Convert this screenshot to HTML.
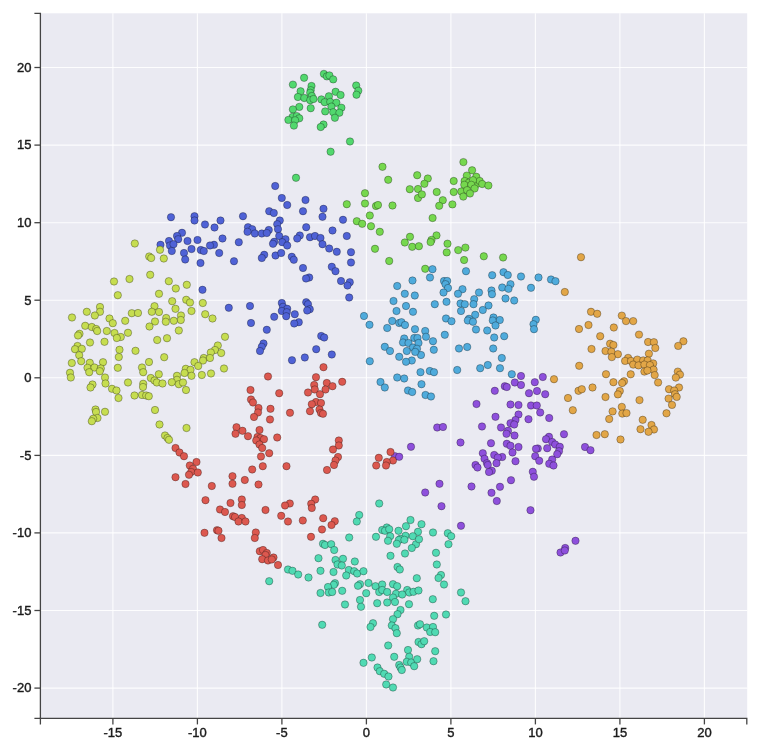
<!DOCTYPE html>
<html><head><meta charset="utf-8"><style>
html,body{margin:0;padding:0;background:#fff}
svg{display:block;filter:blur(0.35px)}
text{font-family:"Liberation Sans",sans-serif;font-size:13px;fill:#1a1a1a;stroke:#1a1a1a;stroke-width:0.4px}
</style></head><body>
<svg width="768" height="753" viewBox="0 0 768 753">
<rect x="40.4" y="13.3" width="706.8" height="705.1" fill="#eaeaf2"/>
<line x1="112.9" x2="112.9" y1="13.3" y2="718.4" stroke="#fff" stroke-opacity="0.9" stroke-width="1.1"/>
<line x1="197.4" x2="197.4" y1="13.3" y2="718.4" stroke="#fff" stroke-opacity="0.9" stroke-width="1.1"/>
<line x1="281.9" x2="281.9" y1="13.3" y2="718.4" stroke="#fff" stroke-opacity="0.9" stroke-width="1.1"/>
<line x1="366.4" x2="366.4" y1="13.3" y2="718.4" stroke="#fff" stroke-opacity="0.9" stroke-width="1.1"/>
<line x1="450.9" x2="450.9" y1="13.3" y2="718.4" stroke="#fff" stroke-opacity="0.9" stroke-width="1.1"/>
<line x1="535.4" x2="535.4" y1="13.3" y2="718.4" stroke="#fff" stroke-opacity="0.9" stroke-width="1.1"/>
<line x1="619.9" x2="619.9" y1="13.3" y2="718.4" stroke="#fff" stroke-opacity="0.9" stroke-width="1.1"/>
<line x1="704.4" x2="704.4" y1="13.3" y2="718.4" stroke="#fff" stroke-opacity="0.9" stroke-width="1.1"/>
<line y1="688.1" y2="688.1" x1="40.4" x2="747.3" stroke="#fff" stroke-opacity="0.9" stroke-width="1.1"/>
<line y1="610.5" y2="610.5" x1="40.4" x2="747.3" stroke="#fff" stroke-opacity="0.9" stroke-width="1.1"/>
<line y1="532.9" y2="532.9" x1="40.4" x2="747.3" stroke="#fff" stroke-opacity="0.9" stroke-width="1.1"/>
<line y1="455.4" y2="455.4" x1="40.4" x2="747.3" stroke="#fff" stroke-opacity="0.9" stroke-width="1.1"/>
<line y1="377.8" y2="377.8" x1="40.4" x2="747.3" stroke="#fff" stroke-opacity="0.9" stroke-width="1.1"/>
<line y1="300.2" y2="300.2" x1="40.4" x2="747.3" stroke="#fff" stroke-opacity="0.9" stroke-width="1.1"/>
<line y1="222.7" y2="222.7" x1="40.4" x2="747.3" stroke="#fff" stroke-opacity="0.9" stroke-width="1.1"/>
<line y1="145.1" y2="145.1" x1="40.4" x2="747.3" stroke="#fff" stroke-opacity="0.9" stroke-width="1.1"/>
<line y1="67.5" y2="67.5" x1="40.4" x2="747.3" stroke="#fff" stroke-opacity="0.9" stroke-width="1.1"/>
<g stroke="#000" stroke-opacity="0.4" stroke-width="0.75">
<circle cx="395.0" cy="456.2" r="3.7" fill="#8e50dc"/>
<circle cx="296.0" cy="177.8" r="3.7" fill="#52d86e"/>
<circle cx="275.2" cy="186.0" r="3.7" fill="#4f62d6"/>
<circle cx="382.5" cy="166.8" r="3.7" fill="#76d84e"/>
<circle cx="388.2" cy="179.8" r="3.7" fill="#76d84e"/>
<circle cx="417.2" cy="175.2" r="3.7" fill="#76d84e"/>
<circle cx="409.8" cy="189.2" r="3.7" fill="#76d84e"/>
<circle cx="418.0" cy="189.0" r="3.7" fill="#76d84e"/>
<circle cx="365.0" cy="193.2" r="3.7" fill="#76d84e"/>
<circle cx="281.8" cy="198.0" r="3.7" fill="#4f62d6"/>
<circle cx="305.5" cy="200.0" r="3.7" fill="#4f62d6"/>
<circle cx="287.2" cy="205.0" r="3.7" fill="#4f62d6"/>
<circle cx="323.5" cy="208.8" r="3.7" fill="#4f62d6"/>
<circle cx="303.0" cy="211.2" r="3.7" fill="#4f62d6"/>
<circle cx="269.2" cy="211.2" r="3.7" fill="#4f62d6"/>
<circle cx="273.8" cy="213.0" r="3.7" fill="#4f62d6"/>
<circle cx="243.0" cy="216.2" r="3.7" fill="#4f62d6"/>
<circle cx="322.5" cy="216.8" r="3.7" fill="#4f62d6"/>
<circle cx="343.0" cy="219.8" r="3.7" fill="#4f62d6"/>
<circle cx="279.8" cy="220.5" r="3.7" fill="#4f62d6"/>
<circle cx="277.2" cy="224.2" r="3.7" fill="#4f62d6"/>
<circle cx="306.2" cy="227.2" r="3.7" fill="#4f62d6"/>
<circle cx="248.0" cy="227.2" r="3.7" fill="#4f62d6"/>
<circle cx="252.2" cy="229.2" r="3.7" fill="#4f62d6"/>
<circle cx="278.0" cy="229.2" r="3.7" fill="#4f62d6"/>
<circle cx="268.8" cy="230.0" r="3.7" fill="#4f62d6"/>
<circle cx="247.5" cy="231.8" r="3.7" fill="#4f62d6"/>
<circle cx="254.8" cy="233.5" r="3.7" fill="#4f62d6"/>
<circle cx="261.8" cy="233.5" r="3.7" fill="#4f62d6"/>
<circle cx="266.8" cy="233.0" r="3.7" fill="#4f62d6"/>
<circle cx="332.5" cy="230.5" r="3.7" fill="#4f62d6"/>
<circle cx="346.8" cy="236.0" r="3.7" fill="#4f62d6"/>
<circle cx="279.2" cy="236.0" r="3.7" fill="#4f62d6"/>
<circle cx="299.8" cy="235.5" r="3.7" fill="#4f62d6"/>
<circle cx="297.2" cy="238.5" r="3.7" fill="#4f62d6"/>
<circle cx="285.5" cy="239.2" r="3.7" fill="#4f62d6"/>
<circle cx="310.0" cy="237.2" r="3.7" fill="#4f62d6"/>
<circle cx="315.0" cy="236.0" r="3.7" fill="#4f62d6"/>
<circle cx="320.5" cy="238.0" r="3.7" fill="#4f62d6"/>
<circle cx="238.8" cy="242.2" r="3.7" fill="#4f62d6"/>
<circle cx="282.2" cy="242.2" r="3.7" fill="#4f62d6"/>
<circle cx="274.2" cy="241.8" r="3.7" fill="#4f62d6"/>
<circle cx="273.0" cy="243.8" r="3.7" fill="#4f62d6"/>
<circle cx="287.2" cy="245.5" r="3.7" fill="#4f62d6"/>
<circle cx="322.5" cy="244.2" r="3.7" fill="#4f62d6"/>
<circle cx="329.2" cy="248.5" r="3.7" fill="#4f62d6"/>
<circle cx="336.8" cy="251.8" r="3.7" fill="#4f62d6"/>
<circle cx="351.0" cy="252.2" r="3.7" fill="#4f62d6"/>
<circle cx="264.2" cy="254.8" r="3.7" fill="#4f62d6"/>
<circle cx="261.8" cy="258.0" r="3.7" fill="#4f62d6"/>
<circle cx="275.5" cy="255.5" r="3.7" fill="#4f62d6"/>
<circle cx="281.2" cy="253.0" r="3.7" fill="#4f62d6"/>
<circle cx="291.8" cy="256.8" r="3.7" fill="#4f62d6"/>
<circle cx="293.8" cy="259.8" r="3.7" fill="#4f62d6"/>
<circle cx="234.0" cy="261.2" r="3.7" fill="#4f62d6"/>
<circle cx="351.0" cy="262.5" r="3.7" fill="#4f62d6"/>
<circle cx="303.0" cy="268.0" r="3.7" fill="#4f62d6"/>
<circle cx="331.8" cy="266.8" r="3.7" fill="#4f62d6"/>
<circle cx="335.5" cy="271.2" r="3.7" fill="#4f62d6"/>
<circle cx="309.2" cy="277.5" r="3.7" fill="#4f62d6"/>
<circle cx="306.0" cy="278.5" r="3.7" fill="#4f62d6"/>
<circle cx="341.0" cy="281.0" r="3.7" fill="#4f62d6"/>
<circle cx="349.8" cy="282.2" r="3.7" fill="#4f62d6"/>
<circle cx="347.5" cy="285.5" r="3.7" fill="#4f62d6"/>
<circle cx="349.2" cy="297.5" r="3.7" fill="#4f62d6"/>
<circle cx="281.8" cy="303.0" r="3.7" fill="#4f62d6"/>
<circle cx="306.2" cy="302.2" r="3.7" fill="#4f62d6"/>
<circle cx="308.0" cy="304.2" r="3.7" fill="#4f62d6"/>
<circle cx="250.0" cy="306.0" r="3.7" fill="#4f62d6"/>
<circle cx="283.0" cy="306.8" r="3.7" fill="#4f62d6"/>
<circle cx="287.2" cy="308.8" r="3.7" fill="#4f62d6"/>
<circle cx="309.8" cy="309.2" r="3.7" fill="#4f62d6"/>
<circle cx="307.2" cy="310.5" r="3.7" fill="#4f62d6"/>
<circle cx="281.8" cy="311.0" r="3.7" fill="#4f62d6"/>
<circle cx="286.8" cy="312.2" r="3.7" fill="#4f62d6"/>
<circle cx="294.8" cy="314.2" r="3.7" fill="#4f62d6"/>
<circle cx="274.2" cy="316.8" r="3.7" fill="#4f62d6"/>
<circle cx="286.2" cy="316.2" r="3.7" fill="#4f62d6"/>
<circle cx="251.0" cy="323.0" r="3.7" fill="#4f62d6"/>
<circle cx="298.8" cy="322.2" r="3.7" fill="#4f62d6"/>
<circle cx="294.2" cy="323.5" r="3.7" fill="#4f62d6"/>
<circle cx="266.8" cy="329.8" r="3.7" fill="#4f62d6"/>
<circle cx="321.2" cy="336.0" r="3.7" fill="#4f62d6"/>
<circle cx="324.2" cy="337.5" r="3.7" fill="#4f62d6"/>
<circle cx="263.5" cy="343.5" r="3.7" fill="#4f62d6"/>
<circle cx="261.8" cy="346.8" r="3.7" fill="#4f62d6"/>
<circle cx="260.0" cy="351.0" r="3.7" fill="#4f62d6"/>
<circle cx="316.2" cy="349.2" r="3.7" fill="#4f62d6"/>
<circle cx="331.8" cy="354.5" r="3.7" fill="#4f62d6"/>
<circle cx="304.8" cy="357.5" r="3.7" fill="#4f62d6"/>
<circle cx="292.0" cy="360.2" r="3.7" fill="#4f62d6"/>
<circle cx="346.8" cy="204.2" r="3.7" fill="#76d84e"/>
<circle cx="365.0" cy="203.5" r="3.7" fill="#76d84e"/>
<circle cx="376.0" cy="206.0" r="3.7" fill="#76d84e"/>
<circle cx="378.0" cy="205.0" r="3.7" fill="#76d84e"/>
<circle cx="392.5" cy="205.5" r="3.7" fill="#76d84e"/>
<circle cx="418.0" cy="198.0" r="3.7" fill="#76d84e"/>
<circle cx="369.8" cy="215.5" r="3.7" fill="#76d84e"/>
<circle cx="356.8" cy="221.2" r="3.7" fill="#76d84e"/>
<circle cx="362.2" cy="223.8" r="3.7" fill="#76d84e"/>
<circle cx="371.0" cy="226.2" r="3.7" fill="#76d84e"/>
<circle cx="379.8" cy="231.8" r="3.7" fill="#76d84e"/>
<circle cx="410.0" cy="236.8" r="3.7" fill="#76d84e"/>
<circle cx="404.8" cy="242.5" r="3.7" fill="#76d84e"/>
<circle cx="412.2" cy="246.8" r="3.7" fill="#76d84e"/>
<circle cx="375.0" cy="248.8" r="3.7" fill="#76d84e"/>
<circle cx="389.2" cy="261.0" r="3.7" fill="#76d84e"/>
<circle cx="412.5" cy="280.5" r="3.7" fill="#4fabdc"/>
<circle cx="397.2" cy="286.0" r="3.7" fill="#4fabdc"/>
<circle cx="404.8" cy="293.8" r="3.7" fill="#4fabdc"/>
<circle cx="414.8" cy="295.5" r="3.7" fill="#4fabdc"/>
<circle cx="393.5" cy="301.0" r="3.7" fill="#4fabdc"/>
<circle cx="406.0" cy="306.0" r="3.7" fill="#4fabdc"/>
<circle cx="396.5" cy="311.0" r="3.7" fill="#4fabdc"/>
<circle cx="413.0" cy="311.8" r="3.7" fill="#4fabdc"/>
<circle cx="364.0" cy="316.0" r="3.7" fill="#4fabdc"/>
<circle cx="392.2" cy="321.0" r="3.7" fill="#4fabdc"/>
<circle cx="399.2" cy="323.0" r="3.7" fill="#4fabdc"/>
<circle cx="401.5" cy="322.2" r="3.7" fill="#4fabdc"/>
<circle cx="405.0" cy="325.0" r="3.7" fill="#4fabdc"/>
<circle cx="369.5" cy="324.8" r="3.7" fill="#4fabdc"/>
<circle cx="387.2" cy="328.0" r="3.7" fill="#4fabdc"/>
<circle cx="415.0" cy="329.2" r="3.7" fill="#4fabdc"/>
<circle cx="404.2" cy="338.5" r="3.7" fill="#4fabdc"/>
<circle cx="414.2" cy="338.0" r="3.7" fill="#4fabdc"/>
<circle cx="403.0" cy="342.5" r="3.7" fill="#4fabdc"/>
<circle cx="408.5" cy="343.0" r="3.7" fill="#4fabdc"/>
<circle cx="384.8" cy="346.8" r="3.7" fill="#4fabdc"/>
<circle cx="413.0" cy="347.5" r="3.7" fill="#4fabdc"/>
<circle cx="390.0" cy="351.0" r="3.7" fill="#4fabdc"/>
<circle cx="406.8" cy="351.0" r="3.7" fill="#4fabdc"/>
<circle cx="399.2" cy="356.8" r="3.7" fill="#4fabdc"/>
<circle cx="411.8" cy="360.5" r="3.7" fill="#4fabdc"/>
<circle cx="406.0" cy="361.8" r="3.7" fill="#4fabdc"/>
<circle cx="369.8" cy="361.2" r="3.7" fill="#4fabdc"/>
<circle cx="397.2" cy="377.5" r="3.7" fill="#4fabdc"/>
<circle cx="404.2" cy="378.5" r="3.7" fill="#4fabdc"/>
<circle cx="268.0" cy="376.5" r="3.7" fill="#dc584f"/>
<circle cx="323.5" cy="367.2" r="3.7" fill="#dc584f"/>
<circle cx="316.0" cy="377.2" r="3.7" fill="#dc584f"/>
<circle cx="250.5" cy="390.0" r="3.7" fill="#dc584f"/>
<circle cx="279.2" cy="393.2" r="3.7" fill="#dc584f"/>
<circle cx="251.0" cy="399.5" r="3.7" fill="#dc584f"/>
<circle cx="253.0" cy="402.5" r="3.7" fill="#dc584f"/>
<circle cx="258.5" cy="408.0" r="3.7" fill="#dc584f"/>
<circle cx="270.5" cy="408.8" r="3.7" fill="#dc584f"/>
<circle cx="258.0" cy="412.5" r="3.7" fill="#dc584f"/>
<circle cx="254.0" cy="417.0" r="3.7" fill="#dc584f"/>
<circle cx="270.0" cy="419.5" r="3.7" fill="#dc584f"/>
<circle cx="290.0" cy="412.8" r="3.7" fill="#dc584f"/>
<circle cx="236.5" cy="427.2" r="3.7" fill="#dc584f"/>
<circle cx="242.5" cy="430.8" r="3.7" fill="#dc584f"/>
<circle cx="235.5" cy="433.8" r="3.7" fill="#dc584f"/>
<circle cx="259.5" cy="430.0" r="3.7" fill="#dc584f"/>
<circle cx="248.0" cy="436.2" r="3.7" fill="#dc584f"/>
<circle cx="277.2" cy="437.5" r="3.7" fill="#dc584f"/>
<circle cx="257.5" cy="437.0" r="3.7" fill="#dc584f"/>
<circle cx="260.5" cy="438.0" r="3.7" fill="#dc584f"/>
<circle cx="264.0" cy="439.2" r="3.7" fill="#dc584f"/>
<circle cx="256.2" cy="440.5" r="3.7" fill="#dc584f"/>
<circle cx="259.5" cy="444.5" r="3.7" fill="#dc584f"/>
<circle cx="262.2" cy="448.0" r="3.7" fill="#dc584f"/>
<circle cx="269.2" cy="453.2" r="3.7" fill="#dc584f"/>
<circle cx="261.0" cy="456.5" r="3.7" fill="#dc584f"/>
<circle cx="262.8" cy="466.2" r="3.7" fill="#dc584f"/>
<circle cx="252.2" cy="469.5" r="3.7" fill="#dc584f"/>
<circle cx="286.5" cy="466.2" r="3.7" fill="#dc584f"/>
<circle cx="232.5" cy="476.2" r="3.7" fill="#dc584f"/>
<circle cx="244.8" cy="480.0" r="3.7" fill="#dc584f"/>
<circle cx="232.5" cy="483.8" r="3.7" fill="#dc584f"/>
<circle cx="258.5" cy="484.5" r="3.7" fill="#dc584f"/>
<circle cx="241.8" cy="499.5" r="3.7" fill="#dc584f"/>
<circle cx="230.5" cy="503.0" r="3.7" fill="#dc584f"/>
<circle cx="241.8" cy="505.0" r="3.7" fill="#dc584f"/>
<circle cx="265.5" cy="510.0" r="3.7" fill="#dc584f"/>
<circle cx="233.0" cy="516.2" r="3.7" fill="#dc584f"/>
<circle cx="235.0" cy="517.0" r="3.7" fill="#dc584f"/>
<circle cx="241.8" cy="518.0" r="3.7" fill="#dc584f"/>
<circle cx="238.5" cy="521.5" r="3.7" fill="#dc584f"/>
<circle cx="245.5" cy="521.5" r="3.7" fill="#dc584f"/>
<circle cx="289.8" cy="503.5" r="3.7" fill="#dc584f"/>
<circle cx="285.0" cy="505.5" r="3.7" fill="#dc584f"/>
<circle cx="281.2" cy="515.8" r="3.7" fill="#dc584f"/>
<circle cx="288.0" cy="521.5" r="3.7" fill="#dc584f"/>
<circle cx="302.8" cy="520.5" r="3.7" fill="#dc584f"/>
<circle cx="255.8" cy="532.5" r="3.7" fill="#dc584f"/>
<circle cx="254.8" cy="538.0" r="3.7" fill="#dc584f"/>
<circle cx="259.8" cy="551.2" r="3.7" fill="#dc584f"/>
<circle cx="263.0" cy="550.0" r="3.7" fill="#dc584f"/>
<circle cx="266.8" cy="553.0" r="3.7" fill="#dc584f"/>
<circle cx="265.5" cy="555.0" r="3.7" fill="#dc584f"/>
<circle cx="262.2" cy="559.2" r="3.7" fill="#dc584f"/>
<circle cx="268.0" cy="560.5" r="3.7" fill="#dc584f"/>
<circle cx="273.5" cy="557.5" r="3.7" fill="#dc584f"/>
<circle cx="271.8" cy="559.5" r="3.7" fill="#dc584f"/>
<circle cx="278.0" cy="565.0" r="3.7" fill="#dc584f"/>
<circle cx="314.2" cy="385.0" r="3.7" fill="#dc584f"/>
<circle cx="314.8" cy="389.5" r="3.7" fill="#dc584f"/>
<circle cx="308.0" cy="392.5" r="3.7" fill="#dc584f"/>
<circle cx="326.8" cy="383.0" r="3.7" fill="#dc584f"/>
<circle cx="332.5" cy="386.2" r="3.7" fill="#dc584f"/>
<circle cx="325.5" cy="389.5" r="3.7" fill="#dc584f"/>
<circle cx="342.2" cy="381.8" r="3.7" fill="#dc584f"/>
<circle cx="320.0" cy="394.2" r="3.7" fill="#dc584f"/>
<circle cx="316.0" cy="402.0" r="3.7" fill="#dc584f"/>
<circle cx="321.0" cy="403.0" r="3.7" fill="#dc584f"/>
<circle cx="311.8" cy="404.2" r="3.7" fill="#dc584f"/>
<circle cx="310.0" cy="411.2" r="3.7" fill="#dc584f"/>
<circle cx="319.5" cy="409.5" r="3.7" fill="#dc584f"/>
<circle cx="321.0" cy="413.0" r="3.7" fill="#dc584f"/>
<circle cx="323.0" cy="413.8" r="3.7" fill="#dc584f"/>
<circle cx="338.8" cy="440.5" r="3.7" fill="#dc584f"/>
<circle cx="338.8" cy="445.5" r="3.7" fill="#dc584f"/>
<circle cx="333.0" cy="449.5" r="3.7" fill="#dc584f"/>
<circle cx="338.0" cy="457.0" r="3.7" fill="#dc584f"/>
<circle cx="335.5" cy="460.5" r="3.7" fill="#dc584f"/>
<circle cx="334.0" cy="465.0" r="3.7" fill="#dc584f"/>
<circle cx="327.0" cy="470.0" r="3.7" fill="#dc584f"/>
<circle cx="315.2" cy="499.5" r="3.7" fill="#dc584f"/>
<circle cx="311.2" cy="503.8" r="3.7" fill="#dc584f"/>
<circle cx="311.8" cy="508.0" r="3.7" fill="#dc584f"/>
<circle cx="323.2" cy="518.2" r="3.7" fill="#dc584f"/>
<circle cx="334.8" cy="521.2" r="3.7" fill="#dc584f"/>
<circle cx="331.5" cy="525.0" r="3.7" fill="#dc584f"/>
<circle cx="322.0" cy="529.5" r="3.7" fill="#dc584f"/>
<circle cx="311.0" cy="536.8" r="3.7" fill="#dc584f"/>
<circle cx="390.5" cy="452.0" r="3.7" fill="#dc584f"/>
<circle cx="378.8" cy="457.8" r="3.7" fill="#dc584f"/>
<circle cx="393.0" cy="460.5" r="3.7" fill="#dc584f"/>
<circle cx="386.8" cy="462.0" r="3.7" fill="#dc584f"/>
<circle cx="376.2" cy="465.5" r="3.7" fill="#dc584f"/>
<circle cx="386.0" cy="465.5" r="3.7" fill="#dc584f"/>
<circle cx="411.0" cy="446.8" r="3.7" fill="#8e50dc"/>
<circle cx="399.2" cy="456.8" r="3.7" fill="#8e50dc"/>
<circle cx="380.5" cy="382.0" r="3.7" fill="#4fabdc"/>
<circle cx="384.8" cy="387.5" r="3.7" fill="#4fabdc"/>
<circle cx="408.0" cy="390.5" r="3.7" fill="#4fabdc"/>
<circle cx="412.2" cy="392.0" r="3.7" fill="#4fabdc"/>
<circle cx="379.2" cy="503.5" r="3.7" fill="#50dab3"/>
<circle cx="359.2" cy="515.0" r="3.7" fill="#50dab3"/>
<circle cx="356.8" cy="521.5" r="3.7" fill="#50dab3"/>
<circle cx="410.5" cy="520.0" r="3.7" fill="#50dab3"/>
<circle cx="349.2" cy="537.5" r="3.7" fill="#50dab3"/>
<circle cx="406.0" cy="526.2" r="3.7" fill="#50dab3"/>
<circle cx="386.8" cy="527.5" r="3.7" fill="#50dab3"/>
<circle cx="382.2" cy="530.0" r="3.7" fill="#50dab3"/>
<circle cx="385.0" cy="530.8" r="3.7" fill="#50dab3"/>
<circle cx="389.2" cy="529.2" r="3.7" fill="#50dab3"/>
<circle cx="398.5" cy="530.8" r="3.7" fill="#50dab3"/>
<circle cx="376.0" cy="536.8" r="3.7" fill="#50dab3"/>
<circle cx="390.2" cy="536.2" r="3.7" fill="#50dab3"/>
<circle cx="388.0" cy="540.8" r="3.7" fill="#50dab3"/>
<circle cx="418.0" cy="531.8" r="3.7" fill="#50dab3"/>
<circle cx="405.5" cy="535.8" r="3.7" fill="#50dab3"/>
<circle cx="412.8" cy="536.2" r="3.7" fill="#50dab3"/>
<circle cx="400.5" cy="538.8" r="3.7" fill="#50dab3"/>
<circle cx="398.8" cy="540.0" r="3.7" fill="#50dab3"/>
<circle cx="396.8" cy="543.8" r="3.7" fill="#50dab3"/>
<circle cx="416.0" cy="544.2" r="3.7" fill="#50dab3"/>
<circle cx="411.8" cy="548.0" r="3.7" fill="#50dab3"/>
<circle cx="405.0" cy="553.5" r="3.7" fill="#50dab3"/>
<circle cx="390.5" cy="555.8" r="3.7" fill="#50dab3"/>
<circle cx="323.0" cy="543.8" r="3.7" fill="#50dab3"/>
<circle cx="325.0" cy="545.0" r="3.7" fill="#50dab3"/>
<circle cx="331.2" cy="544.2" r="3.7" fill="#50dab3"/>
<circle cx="334.2" cy="550.0" r="3.7" fill="#50dab3"/>
<circle cx="318.5" cy="558.2" r="3.7" fill="#50dab3"/>
<circle cx="343.0" cy="558.8" r="3.7" fill="#50dab3"/>
<circle cx="335.5" cy="560.0" r="3.7" fill="#50dab3"/>
<circle cx="354.8" cy="561.5" r="3.7" fill="#50dab3"/>
<circle cx="288.0" cy="569.5" r="3.7" fill="#50dab3"/>
<circle cx="292.5" cy="570.8" r="3.7" fill="#50dab3"/>
<circle cx="298.2" cy="574.5" r="3.7" fill="#50dab3"/>
<circle cx="308.5" cy="577.5" r="3.7" fill="#50dab3"/>
<circle cx="269.2" cy="581.2" r="3.7" fill="#50dab3"/>
<circle cx="320.5" cy="570.8" r="3.7" fill="#50dab3"/>
<circle cx="333.5" cy="572.0" r="3.7" fill="#50dab3"/>
<circle cx="337.5" cy="564.5" r="3.7" fill="#50dab3"/>
<circle cx="341.8" cy="565.5" r="3.7" fill="#50dab3"/>
<circle cx="348.8" cy="570.0" r="3.7" fill="#50dab3"/>
<circle cx="346.2" cy="575.5" r="3.7" fill="#50dab3"/>
<circle cx="354.2" cy="571.2" r="3.7" fill="#50dab3"/>
<circle cx="357.2" cy="573.5" r="3.7" fill="#50dab3"/>
<circle cx="363.5" cy="571.2" r="3.7" fill="#50dab3"/>
<circle cx="397.5" cy="567.0" r="3.7" fill="#50dab3"/>
<circle cx="399.8" cy="569.5" r="3.7" fill="#50dab3"/>
<circle cx="416.8" cy="578.2" r="3.7" fill="#50dab3"/>
<circle cx="335.0" cy="583.2" r="3.7" fill="#50dab3"/>
<circle cx="333.8" cy="584.8" r="3.7" fill="#50dab3"/>
<circle cx="328.0" cy="587.0" r="3.7" fill="#50dab3"/>
<circle cx="320.5" cy="593.0" r="3.7" fill="#50dab3"/>
<circle cx="328.8" cy="592.5" r="3.7" fill="#50dab3"/>
<circle cx="332.2" cy="592.0" r="3.7" fill="#50dab3"/>
<circle cx="342.2" cy="590.8" r="3.7" fill="#50dab3"/>
<circle cx="360.0" cy="584.2" r="3.7" fill="#50dab3"/>
<circle cx="358.0" cy="585.8" r="3.7" fill="#50dab3"/>
<circle cx="368.5" cy="583.0" r="3.7" fill="#50dab3"/>
<circle cx="375.5" cy="586.2" r="3.7" fill="#50dab3"/>
<circle cx="382.2" cy="584.5" r="3.7" fill="#50dab3"/>
<circle cx="393.0" cy="584.2" r="3.7" fill="#50dab3"/>
<circle cx="397.2" cy="586.2" r="3.7" fill="#50dab3"/>
<circle cx="366.2" cy="593.2" r="3.7" fill="#50dab3"/>
<circle cx="379.2" cy="592.0" r="3.7" fill="#50dab3"/>
<circle cx="382.2" cy="590.0" r="3.7" fill="#50dab3"/>
<circle cx="387.2" cy="592.0" r="3.7" fill="#50dab3"/>
<circle cx="407.2" cy="590.0" r="3.7" fill="#50dab3"/>
<circle cx="409.2" cy="592.5" r="3.7" fill="#50dab3"/>
<circle cx="413.5" cy="591.8" r="3.7" fill="#50dab3"/>
<circle cx="396.0" cy="593.8" r="3.7" fill="#50dab3"/>
<circle cx="402.2" cy="594.5" r="3.7" fill="#50dab3"/>
<circle cx="393.0" cy="597.5" r="3.7" fill="#50dab3"/>
<circle cx="360.0" cy="600.0" r="3.7" fill="#50dab3"/>
<circle cx="345.0" cy="604.5" r="3.7" fill="#50dab3"/>
<circle cx="361.0" cy="606.8" r="3.7" fill="#50dab3"/>
<circle cx="377.2" cy="603.2" r="3.7" fill="#50dab3"/>
<circle cx="387.2" cy="602.5" r="3.7" fill="#50dab3"/>
<circle cx="395.0" cy="602.0" r="3.7" fill="#50dab3"/>
<circle cx="409.0" cy="604.2" r="3.7" fill="#50dab3"/>
<circle cx="400.5" cy="610.0" r="3.7" fill="#50dab3"/>
<circle cx="397.5" cy="614.2" r="3.7" fill="#50dab3"/>
<circle cx="393.0" cy="619.2" r="3.7" fill="#50dab3"/>
<circle cx="373.0" cy="623.2" r="3.7" fill="#50dab3"/>
<circle cx="370.5" cy="627.0" r="3.7" fill="#50dab3"/>
<circle cx="322.2" cy="624.8" r="3.7" fill="#50dab3"/>
<circle cx="391.8" cy="625.5" r="3.7" fill="#50dab3"/>
<circle cx="395.5" cy="628.2" r="3.7" fill="#50dab3"/>
<circle cx="396.8" cy="633.2" r="3.7" fill="#50dab3"/>
<circle cx="388.2" cy="645.5" r="3.7" fill="#50dab3"/>
<circle cx="408.0" cy="650.0" r="3.7" fill="#50dab3"/>
<circle cx="371.8" cy="657.5" r="3.7" fill="#50dab3"/>
<circle cx="394.2" cy="656.8" r="3.7" fill="#50dab3"/>
<circle cx="409.2" cy="656.8" r="3.7" fill="#50dab3"/>
<circle cx="363.5" cy="662.8" r="3.7" fill="#50dab3"/>
<circle cx="406.8" cy="661.8" r="3.7" fill="#50dab3"/>
<circle cx="411.2" cy="662.5" r="3.7" fill="#50dab3"/>
<circle cx="399.2" cy="665.0" r="3.7" fill="#50dab3"/>
<circle cx="414.2" cy="666.2" r="3.7" fill="#50dab3"/>
<circle cx="377.5" cy="667.5" r="3.7" fill="#50dab3"/>
<circle cx="400.5" cy="667.5" r="3.7" fill="#50dab3"/>
<circle cx="401.8" cy="670.0" r="3.7" fill="#50dab3"/>
<circle cx="379.8" cy="671.2" r="3.7" fill="#50dab3"/>
<circle cx="384.2" cy="673.8" r="3.7" fill="#50dab3"/>
<circle cx="388.5" cy="676.5" r="3.7" fill="#50dab3"/>
<circle cx="386.2" cy="684.5" r="3.7" fill="#50dab3"/>
<circle cx="393.0" cy="687.5" r="3.7" fill="#50dab3"/>
<circle cx="323.9" cy="73.9" r="3.7" fill="#52d86e"/>
<circle cx="326.9" cy="76.4" r="3.7" fill="#52d86e"/>
<circle cx="329.4" cy="75.4" r="3.7" fill="#52d86e"/>
<circle cx="333.2" cy="79.4" r="3.7" fill="#52d86e"/>
<circle cx="304.1" cy="77.8" r="3.7" fill="#52d86e"/>
<circle cx="292.9" cy="84.6" r="3.7" fill="#52d86e"/>
<circle cx="311.5" cy="86.0" r="3.7" fill="#52d86e"/>
<circle cx="356.2" cy="85.5" r="3.7" fill="#52d86e"/>
<circle cx="358.3" cy="90.7" r="3.7" fill="#52d86e"/>
<circle cx="356.5" cy="94.7" r="3.7" fill="#52d86e"/>
<circle cx="300.6" cy="91.3" r="3.7" fill="#52d86e"/>
<circle cx="310.7" cy="90.2" r="3.7" fill="#52d86e"/>
<circle cx="310.2" cy="92.7" r="3.7" fill="#52d86e"/>
<circle cx="335.6" cy="91.8" r="3.7" fill="#52d86e"/>
<circle cx="340.6" cy="95.0" r="3.7" fill="#52d86e"/>
<circle cx="297.9" cy="97.0" r="3.7" fill="#52d86e"/>
<circle cx="304.3" cy="98.0" r="3.7" fill="#52d86e"/>
<circle cx="311.8" cy="96.0" r="3.7" fill="#52d86e"/>
<circle cx="328.9" cy="96.3" r="3.7" fill="#52d86e"/>
<circle cx="310.2" cy="100.2" r="3.7" fill="#52d86e"/>
<circle cx="313.5" cy="99.0" r="3.7" fill="#52d86e"/>
<circle cx="321.4" cy="99.4" r="3.7" fill="#52d86e"/>
<circle cx="324.7" cy="102.2" r="3.7" fill="#52d86e"/>
<circle cx="330.2" cy="101.9" r="3.7" fill="#52d86e"/>
<circle cx="336.4" cy="102.7" r="3.7" fill="#52d86e"/>
<circle cx="331.4" cy="106.6" r="3.7" fill="#52d86e"/>
<circle cx="341.4" cy="107.7" r="3.7" fill="#52d86e"/>
<circle cx="299.3" cy="106.9" r="3.7" fill="#52d86e"/>
<circle cx="292.9" cy="109.4" r="3.7" fill="#52d86e"/>
<circle cx="310.7" cy="108.2" r="3.7" fill="#52d86e"/>
<circle cx="325.2" cy="111.4" r="3.7" fill="#52d86e"/>
<circle cx="333.2" cy="112.2" r="3.7" fill="#52d86e"/>
<circle cx="339.4" cy="112.7" r="3.7" fill="#52d86e"/>
<circle cx="334.9" cy="117.8" r="3.7" fill="#52d86e"/>
<circle cx="292.6" cy="116.9" r="3.7" fill="#52d86e"/>
<circle cx="296.8" cy="116.1" r="3.7" fill="#52d86e"/>
<circle cx="288.4" cy="119.9" r="3.7" fill="#52d86e"/>
<circle cx="299.3" cy="118.3" r="3.7" fill="#52d86e"/>
<circle cx="295.1" cy="120.3" r="3.7" fill="#52d86e"/>
<circle cx="293.9" cy="125.6" r="3.7" fill="#52d86e"/>
<circle cx="323.5" cy="124.5" r="3.7" fill="#52d86e"/>
<circle cx="320.7" cy="127.0" r="3.7" fill="#52d86e"/>
<circle cx="350.0" cy="141.5" r="3.7" fill="#52d86e"/>
<circle cx="330.6" cy="151.7" r="3.7" fill="#52d86e"/>
<circle cx="463.4" cy="162.1" r="3.7" fill="#76d84e"/>
<circle cx="472.1" cy="170.3" r="3.7" fill="#76d84e"/>
<circle cx="427.8" cy="178.5" r="3.7" fill="#76d84e"/>
<circle cx="424.4" cy="183.8" r="3.7" fill="#76d84e"/>
<circle cx="476.3" cy="176.8" r="3.7" fill="#76d84e"/>
<circle cx="466.8" cy="175.6" r="3.7" fill="#76d84e"/>
<circle cx="453.7" cy="181.0" r="3.7" fill="#76d84e"/>
<circle cx="464.6" cy="181.0" r="3.7" fill="#76d84e"/>
<circle cx="468.8" cy="182.7" r="3.7" fill="#76d84e"/>
<circle cx="476.3" cy="184.3" r="3.7" fill="#76d84e"/>
<circle cx="479.7" cy="181.0" r="3.7" fill="#76d84e"/>
<circle cx="473.0" cy="180.2" r="3.7" fill="#76d84e"/>
<circle cx="464.3" cy="184.8" r="3.7" fill="#76d84e"/>
<circle cx="471.3" cy="184.8" r="3.7" fill="#76d84e"/>
<circle cx="482.2" cy="184.0" r="3.7" fill="#76d84e"/>
<circle cx="488.4" cy="185.5" r="3.7" fill="#76d84e"/>
<circle cx="474.6" cy="188.5" r="3.7" fill="#76d84e"/>
<circle cx="421.9" cy="194.4" r="3.7" fill="#76d84e"/>
<circle cx="436.7" cy="192.0" r="3.7" fill="#76d84e"/>
<circle cx="453.7" cy="192.0" r="3.7" fill="#76d84e"/>
<circle cx="461.3" cy="191.5" r="3.7" fill="#76d84e"/>
<circle cx="467.1" cy="190.2" r="3.7" fill="#76d84e"/>
<circle cx="470.0" cy="193.5" r="3.7" fill="#76d84e"/>
<circle cx="463.3" cy="196.6" r="3.7" fill="#76d84e"/>
<circle cx="442.8" cy="200.2" r="3.7" fill="#76d84e"/>
<circle cx="439.2" cy="205.8" r="3.7" fill="#76d84e"/>
<circle cx="452.4" cy="204.4" r="3.7" fill="#76d84e"/>
<circle cx="432.6" cy="218.0" r="3.7" fill="#76d84e"/>
<circle cx="418.9" cy="246.2" r="3.7" fill="#76d84e"/>
<circle cx="436.5" cy="235.4" r="3.7" fill="#76d84e"/>
<circle cx="431.5" cy="239.9" r="3.7" fill="#76d84e"/>
<circle cx="430.6" cy="242.1" r="3.7" fill="#76d84e"/>
<circle cx="447.5" cy="243.7" r="3.7" fill="#76d84e"/>
<circle cx="446.7" cy="252.4" r="3.7" fill="#76d84e"/>
<circle cx="458.2" cy="250.1" r="3.7" fill="#76d84e"/>
<circle cx="465.4" cy="247.6" r="3.7" fill="#76d84e"/>
<circle cx="464.1" cy="260.0" r="3.7" fill="#76d84e"/>
<circle cx="483.8" cy="256.3" r="3.7" fill="#76d84e"/>
<circle cx="503.1" cy="257.5" r="3.7" fill="#76d84e"/>
<circle cx="171.0" cy="217.2" r="3.7" fill="#4f62d6"/>
<circle cx="194.5" cy="216.2" r="3.7" fill="#4f62d6"/>
<circle cx="194.5" cy="220.5" r="3.7" fill="#4f62d6"/>
<circle cx="220.5" cy="220.5" r="3.7" fill="#4f62d6"/>
<circle cx="205.0" cy="224.5" r="3.7" fill="#4f62d6"/>
<circle cx="214.5" cy="227.5" r="3.7" fill="#4f62d6"/>
<circle cx="182.0" cy="232.8" r="3.7" fill="#4f62d6"/>
<circle cx="177.0" cy="236.0" r="3.7" fill="#4f62d6"/>
<circle cx="178.2" cy="239.2" r="3.7" fill="#4f62d6"/>
<circle cx="222.5" cy="238.5" r="3.7" fill="#4f62d6"/>
<circle cx="169.0" cy="241.0" r="3.7" fill="#4f62d6"/>
<circle cx="187.5" cy="241.0" r="3.7" fill="#4f62d6"/>
<circle cx="197.5" cy="240.0" r="3.7" fill="#4f62d6"/>
<circle cx="160.5" cy="244.8" r="3.7" fill="#4f62d6"/>
<circle cx="170.0" cy="245.5" r="3.7" fill="#4f62d6"/>
<circle cx="173.5" cy="244.2" r="3.7" fill="#4f62d6"/>
<circle cx="214.0" cy="244.8" r="3.7" fill="#4f62d6"/>
<circle cx="210.0" cy="245.5" r="3.7" fill="#4f62d6"/>
<circle cx="191.5" cy="249.0" r="3.7" fill="#4f62d6"/>
<circle cx="200.8" cy="250.0" r="3.7" fill="#4f62d6"/>
<circle cx="203.8" cy="251.0" r="3.7" fill="#4f62d6"/>
<circle cx="171.8" cy="251.0" r="3.7" fill="#4f62d6"/>
<circle cx="184.0" cy="253.0" r="3.7" fill="#4f62d6"/>
<circle cx="219.2" cy="253.0" r="3.7" fill="#4f62d6"/>
<circle cx="185.2" cy="259.5" r="3.7" fill="#4f62d6"/>
<circle cx="200.5" cy="263.0" r="3.7" fill="#4f62d6"/>
<circle cx="202.5" cy="289.8" r="3.7" fill="#4f62d6"/>
<circle cx="228.8" cy="307.8" r="3.7" fill="#4f62d6"/>
<circle cx="134.8" cy="243.5" r="3.7" fill="#c6dd50"/>
<circle cx="160.0" cy="249.8" r="3.7" fill="#c6dd50"/>
<circle cx="149.2" cy="256.5" r="3.7" fill="#c6dd50"/>
<circle cx="151.2" cy="258.0" r="3.7" fill="#c6dd50"/>
<circle cx="163.8" cy="258.5" r="3.7" fill="#c6dd50"/>
<circle cx="150.2" cy="274.8" r="3.7" fill="#c6dd50"/>
<circle cx="129.5" cy="279.0" r="3.7" fill="#c6dd50"/>
<circle cx="114.0" cy="281.5" r="3.7" fill="#c6dd50"/>
<circle cx="168.8" cy="281.2" r="3.7" fill="#c6dd50"/>
<circle cx="186.8" cy="284.8" r="3.7" fill="#c6dd50"/>
<circle cx="175.8" cy="288.5" r="3.7" fill="#c6dd50"/>
<circle cx="117.8" cy="295.2" r="3.7" fill="#c6dd50"/>
<circle cx="159.0" cy="293.8" r="3.7" fill="#c6dd50"/>
<circle cx="172.2" cy="301.2" r="3.7" fill="#c6dd50"/>
<circle cx="186.2" cy="299.8" r="3.7" fill="#c6dd50"/>
<circle cx="190.0" cy="302.5" r="3.7" fill="#c6dd50"/>
<circle cx="202.8" cy="303.0" r="3.7" fill="#c6dd50"/>
<circle cx="100.0" cy="307.0" r="3.7" fill="#c6dd50"/>
<circle cx="154.5" cy="306.2" r="3.7" fill="#c6dd50"/>
<circle cx="175.5" cy="308.8" r="3.7" fill="#c6dd50"/>
<circle cx="86.8" cy="311.8" r="3.7" fill="#c6dd50"/>
<circle cx="100.0" cy="311.8" r="3.7" fill="#c6dd50"/>
<circle cx="151.8" cy="311.8" r="3.7" fill="#c6dd50"/>
<circle cx="159.0" cy="312.0" r="3.7" fill="#c6dd50"/>
<circle cx="191.5" cy="311.0" r="3.7" fill="#c6dd50"/>
<circle cx="72.0" cy="317.5" r="3.7" fill="#c6dd50"/>
<circle cx="94.8" cy="315.5" r="3.7" fill="#c6dd50"/>
<circle cx="131.8" cy="313.2" r="3.7" fill="#c6dd50"/>
<circle cx="138.0" cy="313.0" r="3.7" fill="#c6dd50"/>
<circle cx="205.2" cy="314.2" r="3.7" fill="#c6dd50"/>
<circle cx="181.0" cy="315.5" r="3.7" fill="#c6dd50"/>
<circle cx="109.5" cy="318.5" r="3.7" fill="#c6dd50"/>
<circle cx="166.2" cy="318.0" r="3.7" fill="#c6dd50"/>
<circle cx="212.5" cy="318.5" r="3.7" fill="#c6dd50"/>
<circle cx="125.2" cy="320.8" r="3.7" fill="#c6dd50"/>
<circle cx="180.8" cy="320.0" r="3.7" fill="#c6dd50"/>
<circle cx="173.8" cy="320.8" r="3.7" fill="#c6dd50"/>
<circle cx="165.8" cy="321.8" r="3.7" fill="#c6dd50"/>
<circle cx="155.0" cy="321.5" r="3.7" fill="#c6dd50"/>
<circle cx="112.8" cy="323.2" r="3.7" fill="#c6dd50"/>
<circle cx="85.2" cy="325.8" r="3.7" fill="#c6dd50"/>
<circle cx="91.8" cy="327.0" r="3.7" fill="#c6dd50"/>
<circle cx="149.5" cy="326.5" r="3.7" fill="#c6dd50"/>
<circle cx="96.2" cy="329.0" r="3.7" fill="#c6dd50"/>
<circle cx="97.2" cy="331.0" r="3.7" fill="#c6dd50"/>
<circle cx="106.8" cy="331.0" r="3.7" fill="#c6dd50"/>
<circle cx="178.8" cy="330.5" r="3.7" fill="#c6dd50"/>
<circle cx="114.5" cy="333.0" r="3.7" fill="#c6dd50"/>
<circle cx="128.0" cy="332.8" r="3.7" fill="#c6dd50"/>
<circle cx="79.5" cy="333.8" r="3.7" fill="#c6dd50"/>
<circle cx="78.0" cy="335.5" r="3.7" fill="#c6dd50"/>
<circle cx="120.8" cy="337.0" r="3.7" fill="#c6dd50"/>
<circle cx="116.8" cy="338.0" r="3.7" fill="#c6dd50"/>
<circle cx="167.0" cy="338.2" r="3.7" fill="#c6dd50"/>
<circle cx="157.2" cy="340.0" r="3.7" fill="#c6dd50"/>
<circle cx="225.0" cy="336.8" r="3.7" fill="#c6dd50"/>
<circle cx="90.0" cy="342.5" r="3.7" fill="#c6dd50"/>
<circle cx="104.5" cy="341.8" r="3.7" fill="#c6dd50"/>
<circle cx="217.8" cy="345.5" r="3.7" fill="#c6dd50"/>
<circle cx="77.5" cy="346.0" r="3.7" fill="#c6dd50"/>
<circle cx="75.0" cy="349.2" r="3.7" fill="#c6dd50"/>
<circle cx="81.8" cy="348.8" r="3.7" fill="#c6dd50"/>
<circle cx="119.5" cy="349.8" r="3.7" fill="#c6dd50"/>
<circle cx="135.5" cy="350.8" r="3.7" fill="#c6dd50"/>
<circle cx="215.0" cy="350.0" r="3.7" fill="#c6dd50"/>
<circle cx="210.8" cy="352.5" r="3.7" fill="#c6dd50"/>
<circle cx="221.2" cy="353.0" r="3.7" fill="#c6dd50"/>
<circle cx="79.2" cy="355.2" r="3.7" fill="#c6dd50"/>
<circle cx="118.8" cy="357.0" r="3.7" fill="#c6dd50"/>
<circle cx="164.2" cy="357.2" r="3.7" fill="#c6dd50"/>
<circle cx="203.8" cy="358.0" r="3.7" fill="#c6dd50"/>
<circle cx="210.0" cy="358.0" r="3.7" fill="#c6dd50"/>
<circle cx="203.0" cy="360.5" r="3.7" fill="#c6dd50"/>
<circle cx="71.8" cy="363.0" r="3.7" fill="#c6dd50"/>
<circle cx="81.2" cy="361.2" r="3.7" fill="#c6dd50"/>
<circle cx="89.8" cy="362.8" r="3.7" fill="#c6dd50"/>
<circle cx="103.0" cy="362.2" r="3.7" fill="#c6dd50"/>
<circle cx="149.0" cy="362.0" r="3.7" fill="#c6dd50"/>
<circle cx="194.5" cy="362.2" r="3.7" fill="#c6dd50"/>
<circle cx="198.2" cy="366.0" r="3.7" fill="#c6dd50"/>
<circle cx="87.5" cy="367.8" r="3.7" fill="#c6dd50"/>
<circle cx="94.5" cy="367.5" r="3.7" fill="#c6dd50"/>
<circle cx="117.8" cy="367.8" r="3.7" fill="#c6dd50"/>
<circle cx="142.0" cy="367.5" r="3.7" fill="#c6dd50"/>
<circle cx="100.8" cy="368.5" r="3.7" fill="#c6dd50"/>
<circle cx="224.0" cy="368.5" r="3.7" fill="#c6dd50"/>
<circle cx="185.8" cy="368.8" r="3.7" fill="#c6dd50"/>
<circle cx="190.5" cy="369.8" r="3.7" fill="#c6dd50"/>
<circle cx="89.2" cy="372.2" r="3.7" fill="#c6dd50"/>
<circle cx="99.8" cy="371.2" r="3.7" fill="#c6dd50"/>
<circle cx="143.2" cy="372.2" r="3.7" fill="#c6dd50"/>
<circle cx="70.0" cy="372.8" r="3.7" fill="#c6dd50"/>
<circle cx="184.5" cy="373.0" r="3.7" fill="#c6dd50"/>
<circle cx="211.0" cy="373.5" r="3.7" fill="#c6dd50"/>
<circle cx="158.8" cy="374.2" r="3.7" fill="#c6dd50"/>
<circle cx="201.8" cy="375.0" r="3.7" fill="#c6dd50"/>
<circle cx="191.5" cy="375.8" r="3.7" fill="#c6dd50"/>
<circle cx="177.0" cy="375.8" r="3.7" fill="#c6dd50"/>
<circle cx="70.8" cy="377.5" r="3.7" fill="#c6dd50"/>
<circle cx="105.0" cy="377.5" r="3.7" fill="#c6dd50"/>
<circle cx="150.8" cy="378.0" r="3.7" fill="#c6dd50"/>
<circle cx="177.0" cy="379.8" r="3.7" fill="#c6dd50"/>
<circle cx="154.5" cy="380.5" r="3.7" fill="#c6dd50"/>
<circle cx="171.8" cy="382.2" r="3.7" fill="#c6dd50"/>
<circle cx="92.5" cy="384.5" r="3.7" fill="#c6dd50"/>
<circle cx="90.5" cy="387.5" r="3.7" fill="#c6dd50"/>
<circle cx="105.5" cy="383.5" r="3.7" fill="#c6dd50"/>
<circle cx="112.0" cy="388.8" r="3.7" fill="#c6dd50"/>
<circle cx="116.5" cy="390.5" r="3.7" fill="#c6dd50"/>
<circle cx="118.5" cy="398.0" r="3.7" fill="#c6dd50"/>
<circle cx="128.0" cy="382.5" r="3.7" fill="#c6dd50"/>
<circle cx="143.2" cy="383.8" r="3.7" fill="#c6dd50"/>
<circle cx="143.0" cy="387.0" r="3.7" fill="#c6dd50"/>
<circle cx="134.5" cy="395.5" r="3.7" fill="#c6dd50"/>
<circle cx="142.0" cy="395.0" r="3.7" fill="#c6dd50"/>
<circle cx="146.2" cy="395.5" r="3.7" fill="#c6dd50"/>
<circle cx="148.8" cy="396.2" r="3.7" fill="#c6dd50"/>
<circle cx="156.8" cy="382.5" r="3.7" fill="#c6dd50"/>
<circle cx="162.5" cy="383.5" r="3.7" fill="#c6dd50"/>
<circle cx="178.8" cy="384.2" r="3.7" fill="#c6dd50"/>
<circle cx="183.0" cy="382.5" r="3.7" fill="#c6dd50"/>
<circle cx="186.0" cy="390.0" r="3.7" fill="#c6dd50"/>
<circle cx="95.5" cy="409.5" r="3.7" fill="#c6dd50"/>
<circle cx="96.0" cy="412.0" r="3.7" fill="#c6dd50"/>
<circle cx="105.0" cy="411.8" r="3.7" fill="#c6dd50"/>
<circle cx="97.5" cy="418.0" r="3.7" fill="#c6dd50"/>
<circle cx="93.2" cy="418.8" r="3.7" fill="#c6dd50"/>
<circle cx="91.8" cy="421.2" r="3.7" fill="#c6dd50"/>
<circle cx="155.0" cy="410.0" r="3.7" fill="#c6dd50"/>
<circle cx="159.5" cy="424.5" r="3.7" fill="#c6dd50"/>
<circle cx="186.5" cy="428.0" r="3.7" fill="#c6dd50"/>
<circle cx="165.0" cy="435.5" r="3.7" fill="#c6dd50"/>
<circle cx="167.5" cy="438.0" r="3.7" fill="#c6dd50"/>
<circle cx="169.0" cy="439.8" r="3.7" fill="#c6dd50"/>
<circle cx="175.5" cy="448.0" r="3.7" fill="#dc584f"/>
<circle cx="179.5" cy="452.5" r="3.7" fill="#dc584f"/>
<circle cx="184.0" cy="456.2" r="3.7" fill="#dc584f"/>
<circle cx="196.5" cy="462.0" r="3.7" fill="#dc584f"/>
<circle cx="189.8" cy="465.5" r="3.7" fill="#dc584f"/>
<circle cx="193.0" cy="468.8" r="3.7" fill="#dc584f"/>
<circle cx="191.2" cy="472.0" r="3.7" fill="#dc584f"/>
<circle cx="197.8" cy="472.5" r="3.7" fill="#dc584f"/>
<circle cx="189.0" cy="474.8" r="3.7" fill="#dc584f"/>
<circle cx="175.5" cy="477.2" r="3.7" fill="#dc584f"/>
<circle cx="185.5" cy="484.0" r="3.7" fill="#dc584f"/>
<circle cx="211.8" cy="486.0" r="3.7" fill="#dc584f"/>
<circle cx="205.5" cy="500.2" r="3.7" fill="#dc584f"/>
<circle cx="220.0" cy="509.5" r="3.7" fill="#dc584f"/>
<circle cx="225.0" cy="512.0" r="3.7" fill="#dc584f"/>
<circle cx="204.5" cy="532.8" r="3.7" fill="#dc584f"/>
<circle cx="217.0" cy="530.2" r="3.7" fill="#dc584f"/>
<circle cx="218.5" cy="530.8" r="3.7" fill="#dc584f"/>
<circle cx="221.5" cy="538.0" r="3.7" fill="#dc584f"/>
<circle cx="417.5" cy="338.0" r="3.7" fill="#4fabdc"/>
<circle cx="418.5" cy="343.0" r="3.7" fill="#4fabdc"/>
<circle cx="417.0" cy="348.8" r="3.7" fill="#4fabdc"/>
<circle cx="421.0" cy="355.0" r="3.7" fill="#4fabdc"/>
<circle cx="420.5" cy="372.2" r="3.7" fill="#4fabdc"/>
<circle cx="421.5" cy="384.2" r="3.7" fill="#4fabdc"/>
<circle cx="425.2" cy="268.8" r="3.7" fill="#76d84e"/>
<circle cx="432.5" cy="269.2" r="3.7" fill="#4fabdc"/>
<circle cx="466.0" cy="271.2" r="3.7" fill="#4fabdc"/>
<circle cx="430.0" cy="277.5" r="3.7" fill="#4fabdc"/>
<circle cx="492.2" cy="275.2" r="3.7" fill="#4fabdc"/>
<circle cx="503.5" cy="272.2" r="3.7" fill="#4fabdc"/>
<circle cx="507.8" cy="275.0" r="3.7" fill="#4fabdc"/>
<circle cx="521.0" cy="276.5" r="3.7" fill="#4fabdc"/>
<circle cx="538.5" cy="277.5" r="3.7" fill="#4fabdc"/>
<circle cx="551.0" cy="279.5" r="3.7" fill="#4fabdc"/>
<circle cx="555.5" cy="281.2" r="3.7" fill="#4fabdc"/>
<circle cx="444.0" cy="281.0" r="3.7" fill="#4fabdc"/>
<circle cx="447.2" cy="281.0" r="3.7" fill="#4fabdc"/>
<circle cx="445.5" cy="284.2" r="3.7" fill="#4fabdc"/>
<circle cx="448.0" cy="288.0" r="3.7" fill="#4fabdc"/>
<circle cx="510.5" cy="284.2" r="3.7" fill="#4fabdc"/>
<circle cx="502.2" cy="287.5" r="3.7" fill="#4fabdc"/>
<circle cx="508.5" cy="288.8" r="3.7" fill="#4fabdc"/>
<circle cx="531.0" cy="287.8" r="3.7" fill="#4fabdc"/>
<circle cx="462.5" cy="289.2" r="3.7" fill="#4fabdc"/>
<circle cx="491.5" cy="290.5" r="3.7" fill="#4fabdc"/>
<circle cx="443.5" cy="292.5" r="3.7" fill="#4fabdc"/>
<circle cx="458.0" cy="293.8" r="3.7" fill="#4fabdc"/>
<circle cx="479.0" cy="292.5" r="3.7" fill="#4fabdc"/>
<circle cx="492.0" cy="294.2" r="3.7" fill="#4fabdc"/>
<circle cx="474.2" cy="299.2" r="3.7" fill="#4fabdc"/>
<circle cx="505.5" cy="298.5" r="3.7" fill="#4fabdc"/>
<circle cx="514.2" cy="300.5" r="3.7" fill="#4fabdc"/>
<circle cx="446.5" cy="301.8" r="3.7" fill="#4fabdc"/>
<circle cx="434.8" cy="304.2" r="3.7" fill="#4fabdc"/>
<circle cx="460.5" cy="303.5" r="3.7" fill="#4fabdc"/>
<circle cx="464.8" cy="304.2" r="3.7" fill="#4fabdc"/>
<circle cx="473.5" cy="304.2" r="3.7" fill="#4fabdc"/>
<circle cx="488.5" cy="305.5" r="3.7" fill="#4fabdc"/>
<circle cx="461.0" cy="311.0" r="3.7" fill="#4fabdc"/>
<circle cx="482.8" cy="310.0" r="3.7" fill="#4fabdc"/>
<circle cx="475.2" cy="314.8" r="3.7" fill="#4fabdc"/>
<circle cx="446.0" cy="318.5" r="3.7" fill="#4fabdc"/>
<circle cx="451.5" cy="321.2" r="3.7" fill="#4fabdc"/>
<circle cx="469.0" cy="318.8" r="3.7" fill="#4fabdc"/>
<circle cx="467.8" cy="320.5" r="3.7" fill="#4fabdc"/>
<circle cx="473.0" cy="321.8" r="3.7" fill="#4fabdc"/>
<circle cx="493.5" cy="317.5" r="3.7" fill="#4fabdc"/>
<circle cx="492.8" cy="320.5" r="3.7" fill="#4fabdc"/>
<circle cx="499.8" cy="320.0" r="3.7" fill="#4fabdc"/>
<circle cx="495.5" cy="325.5" r="3.7" fill="#4fabdc"/>
<circle cx="535.8" cy="319.8" r="3.7" fill="#4fabdc"/>
<circle cx="533.5" cy="324.2" r="3.7" fill="#4fabdc"/>
<circle cx="534.0" cy="329.2" r="3.7" fill="#4fabdc"/>
<circle cx="476.0" cy="329.5" r="3.7" fill="#4fabdc"/>
<circle cx="487.2" cy="330.5" r="3.7" fill="#4fabdc"/>
<circle cx="425.2" cy="331.0" r="3.7" fill="#4fabdc"/>
<circle cx="444.8" cy="334.8" r="3.7" fill="#4fabdc"/>
<circle cx="426.0" cy="336.8" r="3.7" fill="#4fabdc"/>
<circle cx="494.2" cy="337.5" r="3.7" fill="#4fabdc"/>
<circle cx="504.2" cy="336.2" r="3.7" fill="#4fabdc"/>
<circle cx="433.0" cy="341.2" r="3.7" fill="#4fabdc"/>
<circle cx="467.2" cy="347.0" r="3.7" fill="#4fabdc"/>
<circle cx="459.0" cy="348.5" r="3.7" fill="#4fabdc"/>
<circle cx="493.2" cy="348.5" r="3.7" fill="#4fabdc"/>
<circle cx="433.8" cy="349.8" r="3.7" fill="#4fabdc"/>
<circle cx="501.8" cy="358.0" r="3.7" fill="#4fabdc"/>
<circle cx="487.8" cy="365.0" r="3.7" fill="#4fabdc"/>
<circle cx="480.2" cy="368.2" r="3.7" fill="#4fabdc"/>
<circle cx="500.0" cy="368.2" r="3.7" fill="#4fabdc"/>
<circle cx="457.2" cy="370.0" r="3.7" fill="#4fabdc"/>
<circle cx="429.8" cy="371.0" r="3.7" fill="#4fabdc"/>
<circle cx="434.0" cy="372.2" r="3.7" fill="#4fabdc"/>
<circle cx="511.8" cy="374.2" r="3.7" fill="#4fabdc"/>
<circle cx="521.0" cy="376.0" r="3.7" fill="#8e50dc"/>
<circle cx="514.8" cy="382.5" r="3.7" fill="#8e50dc"/>
<circle cx="542.8" cy="377.0" r="3.7" fill="#8e50dc"/>
<circle cx="534.8" cy="382.2" r="3.7" fill="#8e50dc"/>
<circle cx="581.0" cy="257.2" r="3.7" fill="#e2a647"/>
<circle cx="564.8" cy="292.0" r="3.7" fill="#e2a647"/>
<circle cx="591.0" cy="311.8" r="3.7" fill="#e2a647"/>
<circle cx="597.2" cy="313.8" r="3.7" fill="#e2a647"/>
<circle cx="588.5" cy="325.0" r="3.7" fill="#e2a647"/>
<circle cx="579.0" cy="329.0" r="3.7" fill="#e2a647"/>
<circle cx="600.2" cy="336.2" r="3.7" fill="#e2a647"/>
<circle cx="591.5" cy="349.0" r="3.7" fill="#e2a647"/>
<circle cx="605.5" cy="351.0" r="3.7" fill="#e2a647"/>
<circle cx="579.2" cy="365.8" r="3.7" fill="#e2a647"/>
<circle cx="606.0" cy="374.2" r="3.7" fill="#e2a647"/>
<circle cx="554.0" cy="379.2" r="3.7" fill="#e2a647"/>
<circle cx="421.5" cy="524.2" r="3.7" fill="#50dab3"/>
<circle cx="419.0" cy="539.2" r="3.7" fill="#50dab3"/>
<circle cx="433.0" cy="532.5" r="3.7" fill="#50dab3"/>
<circle cx="447.8" cy="533.2" r="3.7" fill="#50dab3"/>
<circle cx="451.2" cy="536.2" r="3.7" fill="#50dab3"/>
<circle cx="448.5" cy="544.2" r="3.7" fill="#50dab3"/>
<circle cx="436.0" cy="552.8" r="3.7" fill="#50dab3"/>
<circle cx="436.8" cy="564.5" r="3.7" fill="#50dab3"/>
<circle cx="425.5" cy="395.0" r="3.7" fill="#4fabdc"/>
<circle cx="431.0" cy="396.5" r="3.7" fill="#4fabdc"/>
<circle cx="494.8" cy="390.8" r="3.7" fill="#8e50dc"/>
<circle cx="504.8" cy="386.2" r="3.7" fill="#8e50dc"/>
<circle cx="506.8" cy="387.0" r="3.7" fill="#8e50dc"/>
<circle cx="521.0" cy="385.0" r="3.7" fill="#8e50dc"/>
<circle cx="529.0" cy="393.2" r="3.7" fill="#8e50dc"/>
<circle cx="537.0" cy="391.0" r="3.7" fill="#8e50dc"/>
<circle cx="545.2" cy="394.2" r="3.7" fill="#8e50dc"/>
<circle cx="476.5" cy="404.0" r="3.7" fill="#8e50dc"/>
<circle cx="510.5" cy="404.5" r="3.7" fill="#8e50dc"/>
<circle cx="518.5" cy="405.0" r="3.7" fill="#8e50dc"/>
<circle cx="531.0" cy="405.5" r="3.7" fill="#8e50dc"/>
<circle cx="536.8" cy="405.5" r="3.7" fill="#8e50dc"/>
<circle cx="540.2" cy="412.5" r="3.7" fill="#8e50dc"/>
<circle cx="518.5" cy="414.5" r="3.7" fill="#8e50dc"/>
<circle cx="495.5" cy="416.8" r="3.7" fill="#8e50dc"/>
<circle cx="528.5" cy="419.2" r="3.7" fill="#8e50dc"/>
<circle cx="549.2" cy="418.0" r="3.7" fill="#8e50dc"/>
<circle cx="515.5" cy="420.0" r="3.7" fill="#8e50dc"/>
<circle cx="510.5" cy="423.2" r="3.7" fill="#8e50dc"/>
<circle cx="514.2" cy="424.5" r="3.7" fill="#8e50dc"/>
<circle cx="437.2" cy="427.5" r="3.7" fill="#8e50dc"/>
<circle cx="443.0" cy="427.0" r="3.7" fill="#8e50dc"/>
<circle cx="482.0" cy="426.5" r="3.7" fill="#8e50dc"/>
<circle cx="501.0" cy="427.5" r="3.7" fill="#8e50dc"/>
<circle cx="508.0" cy="430.8" r="3.7" fill="#8e50dc"/>
<circle cx="506.5" cy="433.8" r="3.7" fill="#8e50dc"/>
<circle cx="514.5" cy="435.5" r="3.7" fill="#8e50dc"/>
<circle cx="564.0" cy="434.2" r="3.7" fill="#8e50dc"/>
<circle cx="460.5" cy="442.5" r="3.7" fill="#8e50dc"/>
<circle cx="491.0" cy="443.2" r="3.7" fill="#8e50dc"/>
<circle cx="549.0" cy="436.8" r="3.7" fill="#8e50dc"/>
<circle cx="546.0" cy="439.2" r="3.7" fill="#8e50dc"/>
<circle cx="552.2" cy="442.0" r="3.7" fill="#8e50dc"/>
<circle cx="506.8" cy="443.8" r="3.7" fill="#8e50dc"/>
<circle cx="510.5" cy="445.8" r="3.7" fill="#8e50dc"/>
<circle cx="555.2" cy="444.5" r="3.7" fill="#8e50dc"/>
<circle cx="518.5" cy="447.0" r="3.7" fill="#8e50dc"/>
<circle cx="559.8" cy="446.8" r="3.7" fill="#8e50dc"/>
<circle cx="537.8" cy="448.5" r="3.7" fill="#8e50dc"/>
<circle cx="536.0" cy="448.8" r="3.7" fill="#8e50dc"/>
<circle cx="547.2" cy="448.2" r="3.7" fill="#8e50dc"/>
<circle cx="559.0" cy="451.2" r="3.7" fill="#8e50dc"/>
<circle cx="512.5" cy="452.5" r="3.7" fill="#8e50dc"/>
<circle cx="557.2" cy="454.2" r="3.7" fill="#8e50dc"/>
<circle cx="482.8" cy="453.2" r="3.7" fill="#8e50dc"/>
<circle cx="494.2" cy="455.0" r="3.7" fill="#8e50dc"/>
<circle cx="535.2" cy="456.2" r="3.7" fill="#8e50dc"/>
<circle cx="502.2" cy="457.0" r="3.7" fill="#8e50dc"/>
<circle cx="497.8" cy="457.5" r="3.7" fill="#8e50dc"/>
<circle cx="484.5" cy="458.8" r="3.7" fill="#8e50dc"/>
<circle cx="552.2" cy="459.5" r="3.7" fill="#8e50dc"/>
<circle cx="539.2" cy="460.8" r="3.7" fill="#8e50dc"/>
<circle cx="515.5" cy="461.2" r="3.7" fill="#8e50dc"/>
<circle cx="487.0" cy="463.2" r="3.7" fill="#8e50dc"/>
<circle cx="496.5" cy="463.2" r="3.7" fill="#8e50dc"/>
<circle cx="475.5" cy="465.0" r="3.7" fill="#8e50dc"/>
<circle cx="487.8" cy="465.0" r="3.7" fill="#8e50dc"/>
<circle cx="549.2" cy="463.8" r="3.7" fill="#8e50dc"/>
<circle cx="553.5" cy="465.5" r="3.7" fill="#8e50dc"/>
<circle cx="477.5" cy="467.5" r="3.7" fill="#8e50dc"/>
<circle cx="491.8" cy="470.8" r="3.7" fill="#8e50dc"/>
<circle cx="489.0" cy="472.0" r="3.7" fill="#8e50dc"/>
<circle cx="532.8" cy="471.8" r="3.7" fill="#8e50dc"/>
<circle cx="534.0" cy="476.8" r="3.7" fill="#8e50dc"/>
<circle cx="511.0" cy="480.2" r="3.7" fill="#8e50dc"/>
<circle cx="439.5" cy="483.8" r="3.7" fill="#8e50dc"/>
<circle cx="471.5" cy="486.5" r="3.7" fill="#8e50dc"/>
<circle cx="500.0" cy="486.8" r="3.7" fill="#8e50dc"/>
<circle cx="425.2" cy="492.5" r="3.7" fill="#8e50dc"/>
<circle cx="491.5" cy="492.8" r="3.7" fill="#8e50dc"/>
<circle cx="496.8" cy="501.0" r="3.7" fill="#8e50dc"/>
<circle cx="441.5" cy="506.2" r="3.7" fill="#8e50dc"/>
<circle cx="530.5" cy="510.2" r="3.7" fill="#8e50dc"/>
<circle cx="461.0" cy="525.8" r="3.7" fill="#8e50dc"/>
<circle cx="585.0" cy="447.0" r="3.7" fill="#8e50dc"/>
<circle cx="590.5" cy="450.2" r="3.7" fill="#8e50dc"/>
<circle cx="575.5" cy="540.8" r="3.7" fill="#8e50dc"/>
<circle cx="565.2" cy="548.0" r="3.7" fill="#8e50dc"/>
<circle cx="560.5" cy="552.5" r="3.7" fill="#8e50dc"/>
<circle cx="564.8" cy="550.5" r="3.7" fill="#8e50dc"/>
<circle cx="568.0" cy="398.0" r="3.7" fill="#e2a647"/>
<circle cx="578.5" cy="390.8" r="3.7" fill="#e2a647"/>
<circle cx="581.8" cy="389.2" r="3.7" fill="#e2a647"/>
<circle cx="592.5" cy="387.5" r="3.7" fill="#e2a647"/>
<circle cx="605.5" cy="397.0" r="3.7" fill="#e2a647"/>
<circle cx="572.8" cy="410.2" r="3.7" fill="#e2a647"/>
<circle cx="596.5" cy="435.0" r="3.7" fill="#e2a647"/>
<circle cx="604.8" cy="434.2" r="3.7" fill="#e2a647"/>
<circle cx="418.5" cy="590.5" r="3.7" fill="#50dab3"/>
<circle cx="418.0" cy="625.5" r="3.7" fill="#50dab3"/>
<circle cx="420.0" cy="624.2" r="3.7" fill="#50dab3"/>
<circle cx="418.5" cy="642.0" r="3.7" fill="#50dab3"/>
<circle cx="421.5" cy="644.2" r="3.7" fill="#50dab3"/>
<circle cx="424.2" cy="641.2" r="3.7" fill="#50dab3"/>
<circle cx="417.2" cy="659.2" r="3.7" fill="#50dab3"/>
<circle cx="441.0" cy="575.0" r="3.7" fill="#50dab3"/>
<circle cx="438.5" cy="578.0" r="3.7" fill="#50dab3"/>
<circle cx="444.0" cy="584.5" r="3.7" fill="#50dab3"/>
<circle cx="461.0" cy="592.5" r="3.7" fill="#50dab3"/>
<circle cx="465.5" cy="601.2" r="3.7" fill="#50dab3"/>
<circle cx="432.8" cy="599.2" r="3.7" fill="#50dab3"/>
<circle cx="446.0" cy="614.5" r="3.7" fill="#50dab3"/>
<circle cx="434.2" cy="615.8" r="3.7" fill="#50dab3"/>
<circle cx="426.8" cy="627.5" r="3.7" fill="#50dab3"/>
<circle cx="433.0" cy="627.0" r="3.7" fill="#50dab3"/>
<circle cx="430.2" cy="632.0" r="3.7" fill="#50dab3"/>
<circle cx="435.2" cy="632.2" r="3.7" fill="#50dab3"/>
<circle cx="435.2" cy="651.2" r="3.7" fill="#50dab3"/>
<circle cx="433.5" cy="661.2" r="3.7" fill="#50dab3"/>
<circle cx="651.5" cy="425.0" r="3.7" fill="#e2a647"/>
<circle cx="654.0" cy="429.5" r="3.7" fill="#e2a647"/>
<circle cx="648.5" cy="431.8" r="3.7" fill="#e2a647"/>
<circle cx="640.5" cy="429.2" r="3.7" fill="#e2a647"/>
<circle cx="620.5" cy="439.5" r="3.7" fill="#e2a647"/>
<circle cx="621.8" cy="315.6" r="3.7" fill="#e2a647"/>
<circle cx="626.0" cy="321.1" r="3.7" fill="#e2a647"/>
<circle cx="633.2" cy="321.1" r="3.7" fill="#e2a647"/>
<circle cx="613.8" cy="327.5" r="3.7" fill="#e2a647"/>
<circle cx="639.0" cy="334.6" r="3.7" fill="#e2a647"/>
<circle cx="610.1" cy="343.7" r="3.7" fill="#e2a647"/>
<circle cx="613.4" cy="345.0" r="3.7" fill="#e2a647"/>
<circle cx="648.1" cy="342.0" r="3.7" fill="#e2a647"/>
<circle cx="653.9" cy="342.2" r="3.7" fill="#e2a647"/>
<circle cx="655.3" cy="348.0" r="3.7" fill="#e2a647"/>
<circle cx="683.4" cy="341.3" r="3.7" fill="#e2a647"/>
<circle cx="678.2" cy="345.9" r="3.7" fill="#e2a647"/>
<circle cx="611.4" cy="351.7" r="3.7" fill="#e2a647"/>
<circle cx="617.9" cy="354.2" r="3.7" fill="#e2a647"/>
<circle cx="611.8" cy="357.1" r="3.7" fill="#e2a647"/>
<circle cx="648.9" cy="353.7" r="3.7" fill="#e2a647"/>
<circle cx="628.1" cy="357.9" r="3.7" fill="#e2a647"/>
<circle cx="625.1" cy="360.9" r="3.7" fill="#e2a647"/>
<circle cx="631.0" cy="360.9" r="3.7" fill="#e2a647"/>
<circle cx="637.3" cy="359.6" r="3.7" fill="#e2a647"/>
<circle cx="643.2" cy="360.4" r="3.7" fill="#e2a647"/>
<circle cx="647.7" cy="360.4" r="3.7" fill="#e2a647"/>
<circle cx="653.2" cy="363.4" r="3.7" fill="#e2a647"/>
<circle cx="633.2" cy="364.6" r="3.7" fill="#e2a647"/>
<circle cx="638.5" cy="365.4" r="3.7" fill="#e2a647"/>
<circle cx="644.4" cy="364.6" r="3.7" fill="#e2a647"/>
<circle cx="649.9" cy="365.1" r="3.7" fill="#e2a647"/>
<circle cx="653.6" cy="369.6" r="3.7" fill="#e2a647"/>
<circle cx="644.4" cy="371.6" r="3.7" fill="#e2a647"/>
<circle cx="647.4" cy="370.5" r="3.7" fill="#e2a647"/>
<circle cx="654.7" cy="375.1" r="3.7" fill="#e2a647"/>
<circle cx="630.7" cy="374.3" r="3.7" fill="#e2a647"/>
<circle cx="677.8" cy="371.6" r="3.7" fill="#e2a647"/>
<circle cx="680.0" cy="374.6" r="3.7" fill="#e2a647"/>
<circle cx="675.8" cy="377.6" r="3.7" fill="#e2a647"/>
<circle cx="658.1" cy="382.5" r="3.7" fill="#e2a647"/>
<circle cx="613.4" cy="382.2" r="3.7" fill="#e2a647"/>
<circle cx="624.0" cy="381.3" r="3.7" fill="#e2a647"/>
<circle cx="622.1" cy="383.0" r="3.7" fill="#e2a647"/>
<circle cx="619.8" cy="391.0" r="3.7" fill="#e2a647"/>
<circle cx="617.9" cy="394.4" r="3.7" fill="#e2a647"/>
<circle cx="679.0" cy="387.5" r="3.7" fill="#e2a647"/>
<circle cx="669.0" cy="389.2" r="3.7" fill="#e2a647"/>
<circle cx="674.2" cy="390.5" r="3.7" fill="#e2a647"/>
<circle cx="675.0" cy="394.2" r="3.7" fill="#e2a647"/>
<circle cx="676.7" cy="396.9" r="3.7" fill="#e2a647"/>
<circle cx="668.6" cy="398.6" r="3.7" fill="#e2a647"/>
<circle cx="672.0" cy="404.9" r="3.7" fill="#e2a647"/>
<circle cx="639.5" cy="400.1" r="3.7" fill="#e2a647"/>
<circle cx="621.8" cy="406.9" r="3.7" fill="#e2a647"/>
<circle cx="612.6" cy="411.4" r="3.7" fill="#e2a647"/>
<circle cx="622.3" cy="413.6" r="3.7" fill="#e2a647"/>
<circle cx="626.5" cy="413.1" r="3.7" fill="#e2a647"/>
<circle cx="666.5" cy="413.3" r="3.7" fill="#e2a647"/>
<circle cx="609.2" cy="419.0" r="3.7" fill="#e2a647"/>
<circle cx="642.7" cy="419.8" r="3.7" fill="#e2a647"/>
<circle cx="415.2" cy="351.9" r="3.7" fill="#4fabdc"/>
<circle cx="404.4" cy="539.8" r="3.7" fill="#50dab3"/>
</g>
<path d="M34.4,13.3H40.4V718.4H34.4" fill="none" stroke="#444" stroke-width="1.3"/>
<path d="M40.4,724.4V718.4H746.8V724.4" fill="none" stroke="#444" stroke-width="1.3"/>
<line x1="112.9" x2="112.9" y1="718.4" y2="724.4" stroke="#444" stroke-width="1.3"/>
<text x="112.9" y="736.9" text-anchor="middle">-15</text>
<line x1="197.4" x2="197.4" y1="718.4" y2="724.4" stroke="#444" stroke-width="1.3"/>
<text x="197.4" y="736.9" text-anchor="middle">-10</text>
<line x1="281.9" x2="281.9" y1="718.4" y2="724.4" stroke="#444" stroke-width="1.3"/>
<text x="281.9" y="736.9" text-anchor="middle">-5</text>
<line x1="366.4" x2="366.4" y1="718.4" y2="724.4" stroke="#444" stroke-width="1.3"/>
<text x="366.4" y="736.9" text-anchor="middle">0</text>
<line x1="450.9" x2="450.9" y1="718.4" y2="724.4" stroke="#444" stroke-width="1.3"/>
<text x="450.9" y="736.9" text-anchor="middle">5</text>
<line x1="535.4" x2="535.4" y1="718.4" y2="724.4" stroke="#444" stroke-width="1.3"/>
<text x="535.4" y="736.9" text-anchor="middle">10</text>
<line x1="619.9" x2="619.9" y1="718.4" y2="724.4" stroke="#444" stroke-width="1.3"/>
<text x="619.9" y="736.9" text-anchor="middle">15</text>
<line x1="704.4" x2="704.4" y1="718.4" y2="724.4" stroke="#444" stroke-width="1.3"/>
<text x="704.4" y="736.9" text-anchor="middle">20</text>
<line y1="688.1" y2="688.1" x1="34.4" x2="40.4" stroke="#444" stroke-width="1.3"/>
<text x="31.4" y="692.4" text-anchor="end">-20</text>
<line y1="610.5" y2="610.5" x1="34.4" x2="40.4" stroke="#444" stroke-width="1.3"/>
<text x="31.4" y="614.8" text-anchor="end">-15</text>
<line y1="532.9" y2="532.9" x1="34.4" x2="40.4" stroke="#444" stroke-width="1.3"/>
<text x="31.4" y="537.2" text-anchor="end">-10</text>
<line y1="455.4" y2="455.4" x1="34.4" x2="40.4" stroke="#444" stroke-width="1.3"/>
<text x="31.4" y="459.7" text-anchor="end">-5</text>
<line y1="377.8" y2="377.8" x1="34.4" x2="40.4" stroke="#444" stroke-width="1.3"/>
<text x="31.4" y="382.1" text-anchor="end">0</text>
<line y1="300.2" y2="300.2" x1="34.4" x2="40.4" stroke="#444" stroke-width="1.3"/>
<text x="31.4" y="304.5" text-anchor="end">5</text>
<line y1="222.7" y2="222.7" x1="34.4" x2="40.4" stroke="#444" stroke-width="1.3"/>
<text x="31.4" y="227.0" text-anchor="end">10</text>
<line y1="145.1" y2="145.1" x1="34.4" x2="40.4" stroke="#444" stroke-width="1.3"/>
<text x="31.4" y="149.4" text-anchor="end">15</text>
<line y1="67.5" y2="67.5" x1="34.4" x2="40.4" stroke="#444" stroke-width="1.3"/>
<text x="31.4" y="71.8" text-anchor="end">20</text>
</svg>
</body></html>
